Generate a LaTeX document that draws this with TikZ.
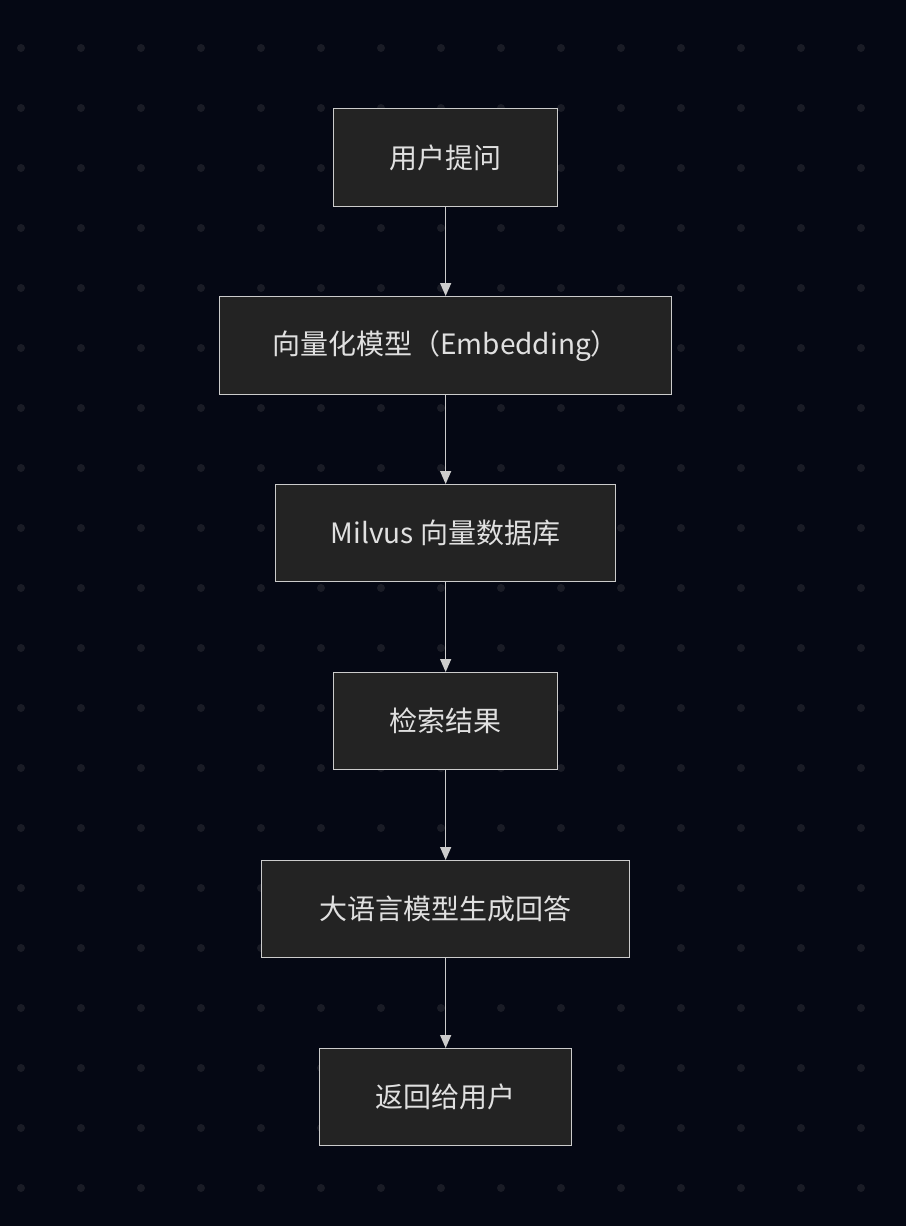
\documentclass[tikz,border=0pt]{standalone}
\usepackage{fontspec}
\newfontfamily\cjk{Noto Sans CJK SC}
\usetikzlibrary{arrows.meta}
\definecolor{bg}{HTML}{050814}
\definecolor{dotc}{HTML}{1A1C26}
\definecolor{boxf}{HTML}{232323}
\definecolor{boxd}{HTML}{CCCCCC}
\definecolor{txt}{HTML}{E0E0E0}
\begin{document}
\begin{tikzpicture}[x=1pt,y=-1pt,
  box/.style={draw=boxd,fill=boxf,line width=1.3pt,text=txt,font=\cjk\fontsize{28}{32}\selectfont,inner sep=0pt,anchor=north west},
  arr/.style={draw=boxd,line width=1.3pt,-{Triangle[length=13pt,width=11pt]}}]
\fill[bg] (0,0) rectangle (906,1226);
\useasboundingbox (0,0) rectangle (906,1226);
\foreach \i in {0,...,14}{\foreach \j in {0,...,19}{\fill[dotc] (21+60*\i,48+60*\j) circle (4);}}
\node[box,minimum width=224pt,minimum height=98pt] (a) at (333,108) {用户提问};
\node[box,minimum width=452pt,minimum height=98pt] (b) at (219,296) {向量化模型（Embedding）};
\node[box,minimum width=340pt,minimum height=97pt] (c) at (275,484) {Milvus 向量数据库};
\node[box,minimum width=224pt,minimum height=97pt] (d) at (333,672) {检索结果};
\node[box,minimum width=368pt,minimum height=97pt] (e) at (261,860) {大语言模型生成回答};
\node[box,minimum width=252pt,minimum height=97pt] (f) at (319,1048) {返回给用户};
\draw[arr] (a) -- (b);
\draw[arr] (b) -- (c);
\draw[arr] (c) -- (d);
\draw[arr] (d) -- (e);
\draw[arr] (e) -- (f);
\end{tikzpicture}
\end{document}
